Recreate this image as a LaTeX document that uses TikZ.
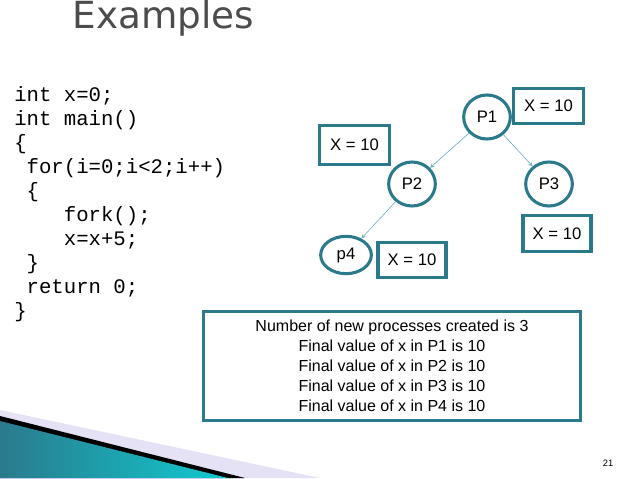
\documentclass[tikz,border=0pt]{standalone}
\usepackage{fontspec}
\usetikzlibrary{shapes.geometric}
\setmainfont{Liberation Sans}
\newfontfamily\codefont{Liberation Mono}
\newfontfamily\titlefont{DejaVu Sans}
\definecolor{teal1}{HTML}{2A7A8C}
\definecolor{arr}{HTML}{6FB3C6}
\begin{document}
\begin{tikzpicture}[x=0.75pt,y=-0.75pt,
  proc/.style={draw=teal1,line width=2.3pt,ellipse,inner sep=0pt,font=\fontsize{12.5}{14}\selectfont},
  valbox/.style={draw=teal1,line width=2.3pt,rectangle,inner sep=0pt,font=\fontsize{12.5}{14}\selectfont},
  link/.style={draw=arr,line width=0.5pt,->,>=stealth}]
\useasboundingbox (0,0) rectangle (638,478);
% bottom decoration
\fill[cyan!15!blue!10] (0,410) -- (320,478) -- (0,478) -- cycle;
\fill[black] (0,416) -- (245,478) -- (0,478) -- cycle;
\shade[left color=teal1, right color=cyan!60!teal1] (0,421) -- (228,478) -- (0,478) -- cycle;
% title
\node[anchor=west,font=\titlefont\fontsize{28}{30}\selectfont,text=black!70] (title) at (68,18) {Examples};
% code
\node[anchor=north west,align=left,font=\codefont\fontsize{15.5}{18}\selectfont,inner sep=0pt] (code) at (14,86) {%
int x=0;\\
int main()\\
\{\\
\ for(i=0;i<2;i++)\\
\ \{\\
\ \ \ \ fork();\\
\ \ \ \ x=x+5;\\
\ \}\\
\ return 0;\\
\}};
% tree
\node[proc,minimum width=35pt,minimum height=33pt] (p1) at (487,117) {P1};
\node[proc,minimum width=35pt,minimum height=33pt] (p2) at (412,184) {P2};
\node[proc,minimum width=35pt,minimum height=33pt] (p3) at (549,184) {P3};
\node[proc,minimum width=38pt,minimum height=28pt] (p4) at (346,255) {p4};
\draw[link] (p1) -- (p2);
\draw[link] (p1) -- (p3);
\draw[link] (p2) -- (p4);
\node[valbox,minimum width=52pt,minimum height=26pt] (b1) at (548.5,106) {X = 10};
\node[valbox,minimum width=53pt,minimum height=29pt] (b2) at (354.5,145) {X = 10};
\node[valbox,minimum width=51pt,minimum height=27pt] (b3) at (557,233.5) {X = 10};
\node[valbox,minimum width=51pt,minimum height=26pt] (b4) at (412,260) {X = 10};
% summary
\node[valbox,minimum width=283pt,minimum height=82pt,align=center,font=\fontsize{12}{15}\selectfont] (sum) at (392,366) {%
Number of new processes created is 3\\
Final value of x in P1 is 10\\
Final value of x in P2 is 10\\
Final value of x in P3 is 10\\
Final value of x in P4 is 10};
\node[font=\fontsize{7}{8}\selectfont] (pg) at (608,463) {21};
\end{tikzpicture}
\end{document}
